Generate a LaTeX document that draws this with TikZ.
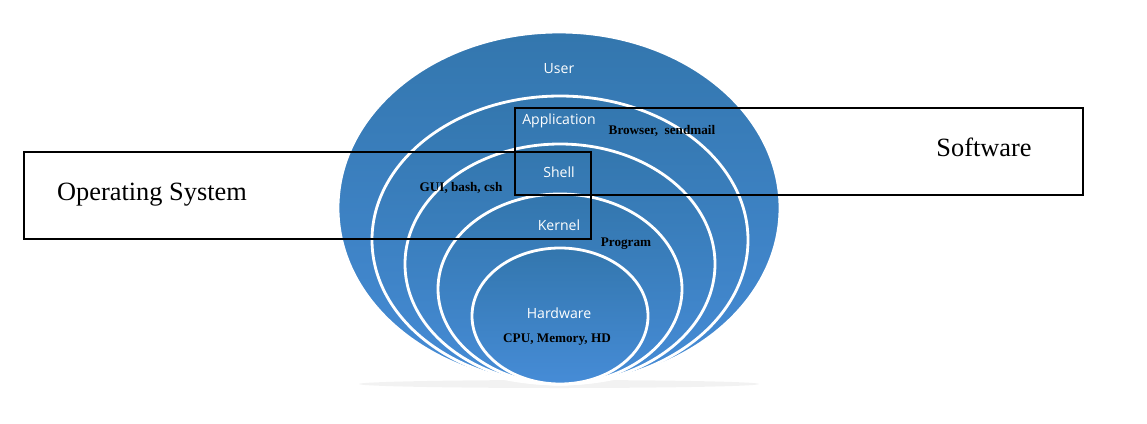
\documentclass[tikz,border=0pt]{standalone}
\usepackage{fontspec}
\setmainfont{Liberation Serif}
\newfontfamily\lsans{Open Sans}
\begin{document}
\begin{tikzpicture}[x=0.02cm,y=-0.02cm,
  layer/.style={draw=white,line width=1.6pt,top color=blue!45!cyan!60!black!80,bottom color={rgb,255:red,70;green,140;blue,215}},
  lab/.style={text=white,font=\lsans\fontsize{8}{9}\selectfont},
  note/.style={font=\bfseries\fontsize{7.5}{9}\selectfont},
  box/.style={draw=black,line width=1pt}]
\useasboundingbox (0,0) rectangle (1147,423);
\fill[gray!10] (559,384) ellipse (200 and 4);
\path[layer] (559,208) ellipse (221 and 176);
\path[layer] (560,240) ellipse (188 and 144);
\path[layer] (560,264) ellipse (155 and 120);
\path[layer] (560,289) ellipse (122 and 95);
\path[layer] (560,316) ellipse (88 and 68);
\node[lab] (user) at (559,69) {User};
\node[lab] (app) at (559,121) {Application};
\node[note] (br) at (662,131) {Browser,\ \ sendmail};
\node[lab] (sh) at (559,172) {Shell};
\node[note] (gui) at (461,188) {GUI, bash, csh};
\node[lab] (ker) at (559,225) {Kernel};
\node[note] (prog) at (626,244) {Program};
\node[lab] (hw) at (559,313) {Hardware};
\node[note] (cpu) at (557,340) {CPU, Memory, HD};
\draw[box] (515,108) rectangle (1083,195);
\node[font=\fontsize{15}{18}\selectfont] (sw) at (984,147) {Software};
\draw[box] (24,152) rectangle (591,239);
\node[font=\fontsize{15}{18}\selectfont] (os) at (152,195) {Operating System};
\end{tikzpicture}
\end{document}
